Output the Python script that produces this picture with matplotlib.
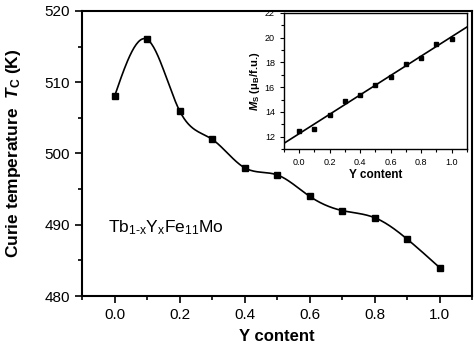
import numpy as np
import matplotlib
matplotlib.use("Agg")
import matplotlib.pyplot as plt
from matplotlib.ticker import MultipleLocator

plt.rcParams['font.family'] = ['Liberation Sans', 'DejaVu Sans']
plt.rcParams['mathtext.fontset'] = 'custom'
plt.rcParams['mathtext.rm'] = 'Liberation Sans'
plt.rcParams['mathtext.it'] = 'Liberation Sans:italic'
plt.rcParams['mathtext.bf'] = 'Liberation Sans:bold'
plt.rcParams['mathtext.bfit'] = 'Liberation Sans:italic:bold'

y_content = [0.0, 0.1, 0.2, 0.3, 0.4, 0.5, 0.6, 0.7, 0.8, 0.9, 1.0]
tc = [508, 516, 506, 502, 498, 497, 494, 492, 491, 488, 484]
ms = [12.45, 12.65, 13.75, 14.85, 15.4, 16.15, 16.85, 17.9, 18.4, 19.5, 19.9]


def natural_spline(x, y, n=300):
    x = np.asarray(x, float)
    y = np.asarray(y, float)
    k = len(x)
    h = np.diff(x)
    A = np.zeros((k, k))
    b = np.zeros(k)
    A[0, 0] = A[-1, -1] = 1
    for i in range(1, k - 1):
        A[i, i - 1] = h[i - 1]
        A[i, i] = 2 * (h[i - 1] + h[i])
        A[i, i + 1] = h[i]
        b[i] = 3 * ((y[i + 1] - y[i]) / h[i] - (y[i] - y[i - 1]) / h[i - 1])
    c = np.linalg.solve(A, b)
    xs = np.linspace(x[0], x[-1], n)
    idx = np.clip(np.searchsorted(x, xs) - 1, 0, k - 2)
    dx = xs - x[idx]
    bb = (y[idx + 1] - y[idx]) / h[idx] - h[idx] * (2 * c[idx] + c[idx + 1]) / 3
    d = (c[idx + 1] - c[idx]) / (3 * h[idx])
    return xs, y[idx] + bb * dx + c[idx] * dx ** 2 + d * dx ** 3


fig = plt.figure(figsize=(4.74, 3.5), dpi=100)
ax = fig.add_axes([0.173, 0.154, 0.823, 0.815])

xs, ys = natural_spline(y_content, tc)
ax.plot(xs, ys, color='black', lw=1.2)
ax.plot(y_content, tc, 's', color='black', ms=5)
ax.set_xlim(-0.1, 1.1)
ax.set_ylim(480, 520)
ax.xaxis.set_major_locator(MultipleLocator(0.2))
ax.xaxis.set_minor_locator(MultipleLocator(0.1))
ax.yaxis.set_major_locator(MultipleLocator(10))
ax.yaxis.set_minor_locator(MultipleLocator(5))
ax.tick_params(which='both', direction='out', labelsize=11, width=1.2)
ax.tick_params(which='major', length=5)
ax.tick_params(which='minor', length=3)
for s in ax.spines.values():
    s.set_linewidth(1.5)
ax.set_xlabel('Y content', fontsize=12, fontweight='bold', labelpad=5)
ax.set_ylabel(r'Curie temperature  $\boldsymbol{T}_\mathbf{C}$ (K)', fontsize=12.5, fontweight='bold')
ax.yaxis.set_label_coords(-0.15, 0.5)
ax.text(-0.02, 489.6, r'Tb$_\mathrm{1\text{-}x}$Y$_\mathrm{x}$Fe$_\mathrm{11}$Mo', fontsize=12.5, va='center')

ins = fig.add_axes([0.599, 0.574, 0.386, 0.389])
p = np.polyfit(y_content, ms, 1)
lx = np.array([-0.1, 1.1])
ins.plot(lx, np.polyval(p, lx), color='black', lw=1.2)
ins.plot(y_content, ms, 's', color='black', ms=3.5)
ins.set_xlim(-0.1, 1.1)
ins.set_ylim(11, 22)
ins.xaxis.set_major_locator(MultipleLocator(0.2))
ins.xaxis.set_minor_locator(MultipleLocator(0.1))
ins.yaxis.set_major_locator(MultipleLocator(2))
ins.yaxis.set_minor_locator(MultipleLocator(1))
ins.tick_params(which='both', direction='out', labelsize=6.5, width=0.8)
ins.tick_params(which='major', length=3)
ins.tick_params(which='minor', length=2)
for s in ins.spines.values():
    s.set_linewidth(1)
ins.set_xlabel('Y content', fontsize=8.5, fontweight='bold', labelpad=1)
ins.set_ylabel(r'$\boldsymbol{M}_\mathbf{S}$ ($\mathbf{\mu_B}$/f.u.)', fontsize=8, fontweight='bold', labelpad=2)

fig.savefig('out.png', dpi=100)
